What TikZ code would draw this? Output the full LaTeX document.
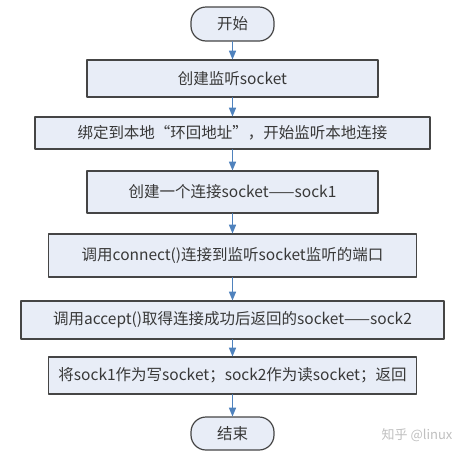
\documentclass[tikz,border=0pt]{standalone}
\usepackage{fontspec}
\setmainfont{Noto Sans CJK SC}
\usetikzlibrary{arrows}
\definecolor{eeeff7}{rgb}{0.91,0.93,0.97}
\definecolor{pppppp}{rgb}{0.27,0.27,0.27}
\definecolor{bbbbbb}{rgb}{0.31,0.51,0.74}
\definecolor{tttttt}{rgb}{0.22,0.22,0.22}
\tikzset{
  procbox/.style={draw=pppppp,line width=1.2pt,fill=eeeff7,text=tttttt,inner sep=0pt,font=\fontsize{15.5}{17}\selectfont},
  termbox/.style={procbox,rounded corners=15pt,minimum width=83pt,minimum height=34pt},
  flow/.style={->,color=bbbbbb,line width=1pt}
}
\begin{document}
\begin{tikzpicture}[line cap=round,line join=round,>=triangle 45,x=1pt,y=-1pt]
\useasboundingbox (0,0) rectangle (469,456);
\node[termbox] (start) at (232.5,24) {开始};
\node[procbox,minimum width=291pt,minimum height=37pt] (mklisten) at (232.5,78.5) {创建监听socket};
\node[procbox,minimum width=395pt,minimum height=32pt] (bindloop) at (232.5,133) {绑定到本地“环回地址”，开始监听本地连接};
\node[procbox,minimum width=291pt,minimum height=42pt] (mksock) at (232.5,192) {创建一个连接socket——sock1};
\node[procbox,minimum width=368pt,minimum height=43pt] (connect) at (232.5,255.5) {调用connect()连接到监听socket监听的端口};
\node[procbox,minimum width=423pt,minimum height=38pt] (accept) at (232.5,320) {调用accept()取得连接成功后返回的socket——sock2};
\node[procbox,minimum width=368pt,minimum height=37pt] (retpair) at (232.5,375.5) {将sock1作为写socket；sock2作为读socket；返回};
\node[termbox,minimum height=33pt] (stop) at (232.5,433.5) {结束};
\draw[flow] (start) -- (mklisten);
\draw[flow] (mklisten) -- (bindloop);
\draw[flow] (bindloop) -- (mksock);
\draw[flow] (mksock) -- (connect);
\draw[flow] (connect) -- (accept);
\draw[flow] (accept) -- (retpair);
\draw[flow] (retpair) -- (stop);
% watermark
\node[text=black!25,font=\fontsize{13}{15}\selectfont] (mark) at (417,435) {知乎 @linux};
\end{tikzpicture}
\end{document}
